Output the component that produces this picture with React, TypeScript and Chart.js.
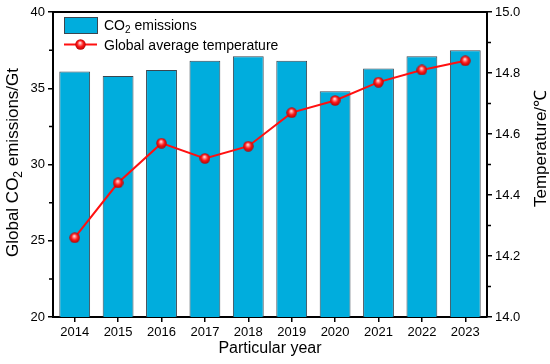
import React, { useEffect, useRef } from "react";
import { Chart, registerables } from "chart.js";

Chart.register(...registerables);

const years = ["2014", "2015", "2016", "2017", "2018", "2019", "2020", "2021", "2022", "2023"];
const co2Emissions = [36.1, 35.8, 36.2, 36.8, 37.1, 36.8, 34.8, 36.3, 37.1, 37.5];
const globalTemp = [14.26, 14.44, 14.57, 14.52, 14.56, 14.67, 14.71, 14.77, 14.81, 14.84];
const leftMinorTicks = [22.5, 27.5, 32.5, 37.5];
const rightMinorTicks = [14.1, 14.3, 14.5, 14.7, 14.9];

const FONT = "'Liberation Sans', Arial, Helvetica, sans-serif";
const BAR_COLOR = "#00ADDD";
const BAR_BORDER = "#3a4650";
const LINE_COLOR = "#FF1010";

function makeSphere(size: number): HTMLCanvasElement {
  const c = document.createElement("canvas");
  c.width = size;
  c.height = size;
  const ctx = c.getContext("2d")!;
  const r = size / 2;
  const g = ctx.createRadialGradient(r - 0.5, r - 1.8, 0, r, r, r);
  g.addColorStop(0, "#ffffff");
  g.addColorStop(0.22, "#ff9a9a");
  g.addColorStop(0.55, "#ff1a1a");
  g.addColorStop(1, "#b00000");
  ctx.fillStyle = g;
  ctx.beginPath();
  ctx.arc(r, r, r - 0.3, 0, Math.PI * 2);
  ctx.fill();
  return c;
}

const decorPlugin = {
  id: "decor",
  afterDraw(chart: any) {
    const { ctx, chartArea, scales } = chart;
    const ca = chartArea;
    ctx.save();
    // top frame
    ctx.strokeStyle = "#000";
    ctx.lineWidth = 2;
    ctx.beginPath();
    ctx.moveTo(ca.left - 1, ca.top);
    ctx.lineTo(ca.right + 1, ca.top);
    ctx.stroke();
    // minor ticks
    ctx.lineWidth = 1.5;
    ctx.beginPath();
    for (const v of leftMinorTicks) {
      const y = scales.y.getPixelForValue(v);
      ctx.moveTo(ca.left - 1, y);
      ctx.lineTo(ca.left - 4, y);
    }
    for (const v of rightMinorTicks) {
      const y = scales.y1.getPixelForValue(v);
      ctx.moveTo(ca.right + 1, y);
      ctx.lineTo(ca.right + 4, y);
    }
    ctx.stroke();

    ctx.fillStyle = "#000";
    // x title
    ctx.font = `16px ${FONT}`;
    ctx.textAlign = "center";
    ctx.textBaseline = "alphabetic";
    ctx.fillText("Particular year", (ca.left + ca.right) / 2, ca.bottom + 36);

    // left title with subscript
    const big = `17px ${FONT}`;
    const small = `12px ${FONT}`;
    const p1 = "Global CO";
    const p2 = "2";
    const p3 = " emissions/Gt";
    ctx.font = big;
    const w1 = ctx.measureText(p1).width;
    const w3 = ctx.measureText(p3).width;
    ctx.font = small;
    const w2 = ctx.measureText(p2).width;
    const total = w1 + w2 + w3;
    ctx.save();
    ctx.translate(18, (ca.top + ca.bottom) / 2 - 2);
    ctx.rotate(-Math.PI / 2);
    ctx.textAlign = "left";
    ctx.textBaseline = "alphabetic";
    let x = -total / 2;
    ctx.font = big;
    ctx.fillText(p1, x, 0);
    x += w1;
    ctx.font = small;
    ctx.fillText(p2, x, 4);
    x += w2;
    ctx.font = big;
    ctx.fillText(p3, x, 0);
    ctx.restore();

    // right title
    ctx.save();
    ctx.translate(546, (ca.top + ca.bottom) / 2 - 16);
    ctx.rotate(-Math.PI / 2);
    ctx.font = big;
    ctx.textAlign = "center";
    ctx.textBaseline = "alphabetic";
    ctx.fillText("Temperature/\u2103", 0, 0);
    ctx.restore();

    // legend
    const lx = ca.left + 11;
    const ly = ca.top + 5;
    ctx.fillStyle = BAR_COLOR;
    ctx.fillRect(lx, ly, 34, 17);
    ctx.strokeStyle = BAR_BORDER;
    ctx.lineWidth = 1;
    ctx.strokeRect(lx + 0.5, ly + 0.5, 33, 16);
    ctx.strokeStyle = LINE_COLOR;
    ctx.lineWidth = 2;
    ctx.beginPath();
    ctx.moveTo(lx, ly + 27.5);
    ctx.lineTo(lx + 33, ly + 27.5);
    ctx.stroke();
    const sph = makeSphere(11);
    ctx.drawImage(sph, lx + 16.5 - 5.5, ly + 27.5 - 5.5);

    ctx.fillStyle = "#000";
    ctx.textAlign = "left";
    ctx.textBaseline = "alphabetic";
    const tx = lx + 40;
    ctx.font = `14px ${FONT}`;
    ctx.fillText("CO", tx, ly + 13);
    const wco = ctx.measureText("CO").width;
    ctx.font = `10px ${FONT}`;
    ctx.fillText("2", tx + wco, ly + 16);
    const w2b = ctx.measureText("2").width;
    ctx.font = `14px ${FONT}`;
    ctx.fillText(" emissions", tx + wco + w2b, ly + 13);
    ctx.fillText("Global average temperature", tx, ly + 32.5);
    ctx.restore();
  },
};

export default function App() {
  const ref = useRef<HTMLCanvasElement>(null);
  useEffect(() => {
    const canvas = ref.current!;
    const sphere = makeSphere(11);
    const chart = new Chart(canvas, {
      type: "bar",
      data: {
        labels: years,
        datasets: [
          {
            type: "line",
            label: "Global average temperature",
            data: globalTemp,
            yAxisID: "y1",
            borderColor: LINE_COLOR,
            borderWidth: 2,
            pointStyle: sphere as any,
            pointRadius: 5,
            order: 0,
          } as any,
          {
            type: "bar",
            label: "CO2 emissions",
            data: co2Emissions,
            yAxisID: "y",
            backgroundColor: BAR_COLOR,
            borderColor: BAR_BORDER,
            borderWidth: 1,
            barPercentage: 0.71,
            categoryPercentage: 1,
            order: 1,
          },
        ],
      },
      options: {
        responsive: false,
        animation: false,
        layout: { padding: { top: 12, left: 0, right: 0, bottom: 0 } },
        plugins: {
          legend: { display: false },
          tooltip: { enabled: false },
        },
        scales: {
          x: {
            offset: true,
            grid: {
              offset: false,
              drawOnChartArea: false,
              drawTicks: true,
              tickLength: 5,
              color: "#000",
              lineWidth: 1.5,
            },
            border: { display: true, color: "#000", width: 2 },
            ticks: { color: "#000", font: { family: FONT, size: 13 }, padding: 3, maxRotation: 0 },
            afterFit: (s: any) => {
              s.height = 47;
            },
          },
          y: {
            position: "left",
            min: 20,
            max: 40,
            ticks: { stepSize: 5, color: "#000", font: { family: FONT, size: 13 }, padding: 3 },
            grid: { drawOnChartArea: false, tickLength: 5, color: "#000", lineWidth: 1.5 },
            border: { display: true, color: "#000", width: 2 },
            afterFit: (s: any) => {
              s.width = 53;
            },
          },
          y1: {
            position: "right",
            min: 14,
            max: 15,
            ticks: {
              stepSize: 0.2,
              color: "#000",
              font: { family: FONT, size: 13 },
              padding: 3,
              callback: (v: any) => Number(v).toFixed(1),
            },
            grid: { drawOnChartArea: false, tickLength: 5, color: "#000", lineWidth: 1.5 },
            border: { display: true, color: "#000", width: 2 },
            afterFit: (s: any) => {
              s.width = 63;
            },
          },
        },
      },
      plugins: [decorPlugin],
    });
    return () => chart.destroy();
  }, []);
  return (
    <div style={{ position: "absolute", left: 0, top: 0, width: 550, height: 364, background: "#fff" }}>
      <canvas ref={ref} width={550} height={364} style={{ display: "block" }} />
    </div>
  );
}
